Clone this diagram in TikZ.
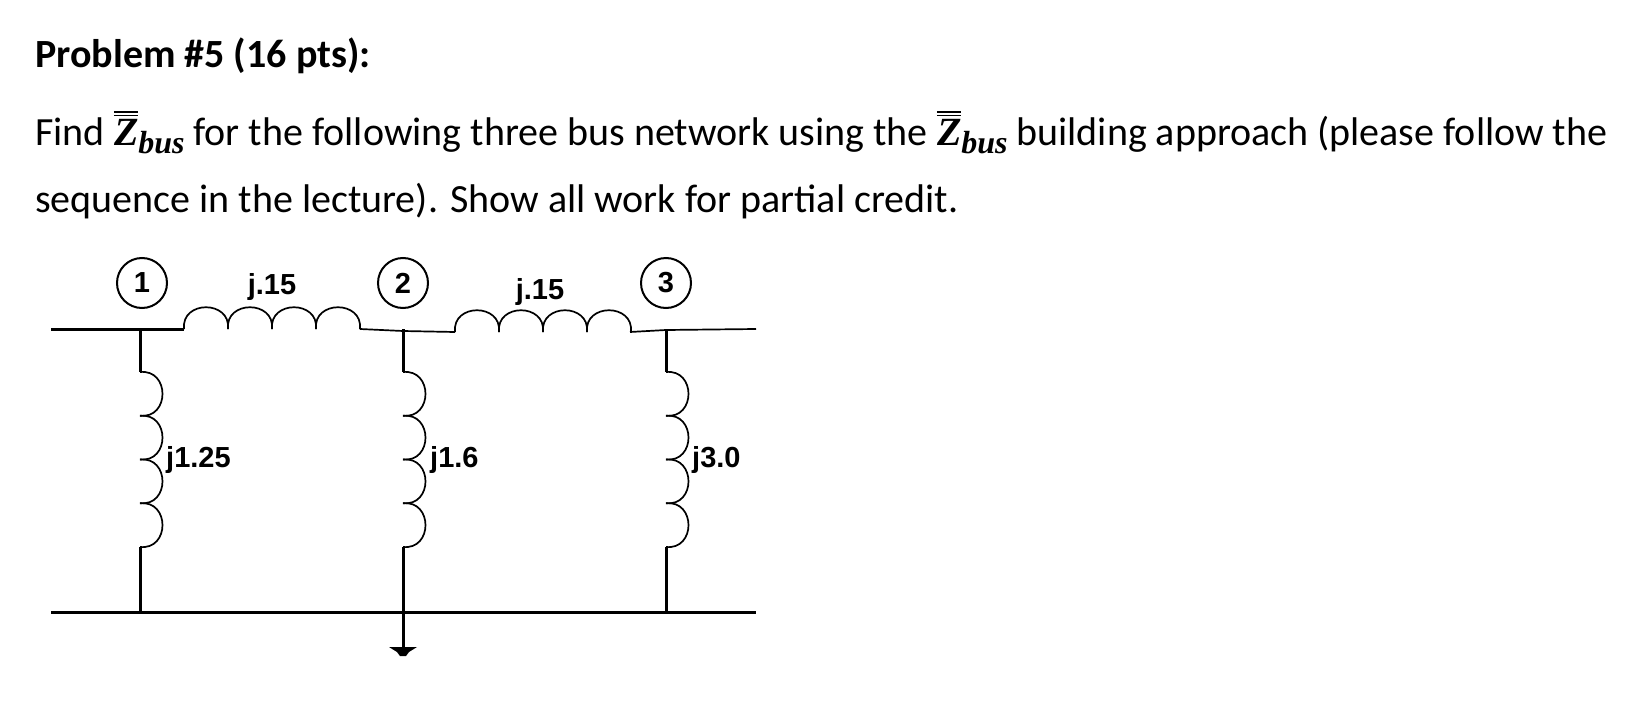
\documentclass[tikz,border=0pt]{standalone}
\usepackage{fontspec}
\setmainfont{Carlito}
\newfontfamily\zfont{Liberation Serif}[BoldItalicFont={* Bold Italic}]
\newfontfamily\lblfont{Liberation Sans}
\newcommand{\Zbus}{{\zfont\bfseries\itshape\vbox{\hrule height 1.8pt\kern2pt\hrule height 1.8pt\kern2.5pt\hbox{\kern1pt Z\kern-1pt}}\raisebox{-0.45ex}{\fontsize{32}{32}\selectfont bus}}}
\begin{document}
\begin{tikzpicture}[x=1pt,y=-1pt,
  bus/.style={line width=3pt},
  wire/.style={line width=1.7pt},
  busnum/.style={circle,draw,line width=2pt,minimum size=50pt,inner sep=0pt,font=\lblfont\bfseries\fontsize{29}{29}\selectfont},
  lbl/.style={font=\lblfont\bfseries\fontsize{29}{29}\selectfont,inner sep=0pt},
  txt/.style={anchor=base west,inner sep=0pt,font=\fontsize{40}{40}\selectfont}]
\useasboundingbox (0,0) rectangle (1650,712);
\node[txt,font=\bfseries\fontsize{40}{40}\selectfont] (title) at (35,67) {Problem \#5 (16 pts):};
\node[txt] (l1) at (35,145) {Find \Zbus\ for the following three bus network using the \Zbus\ building approach (please follow the};
\node[txt] (l2) at (35,212) {sequence in the lecture). Show all work for partial credit.};
% bus numbers
\node[busnum] (n1) at (142,283) {1};
\node[busnum] (n2) at (403,283) {2};
\node[busnum] (n3) at (666,283) {3};
\node[lbl] (z12) at (272,287) {j.15};
\node[lbl] (z23) at (540,292) {j.15};
\node[lbl,anchor=west] (z1) at (166,460) {j1.25};
\node[lbl,anchor=west] (z2) at (430,460) {j1.6};
\node[lbl,anchor=west] (z3) at (692,460) {j3.0};
% coordinates
\coordinate (b1l) at (51,329);
\coordinate (c1a) at (184,329);
\coordinate (c1b) at (360,329);
\coordinate (b2) at (403,331);
\coordinate (c2a) at (455,332);
\coordinate (c2b) at (630,332);
\coordinate (b3) at (666,330);
\coordinate (b3r) at (756,329);
\coordinate (g2) at (403,612);
\coordinate (gl) at (51,612);
\coordinate (gr) at (756,612);
\coordinate (gnd) at (403,648);
% top wires
\draw[bus] (b1l) -- (c1a);
\draw[wire] (c1b) -- (b2) -- (c2a);
\draw[wire] (c2b) -- (b3) -- (b3r);
% horizontal coils
\foreach \s/\yy in {184/329,455/332}{
  \foreach \k in {0,1,2,3}{
    \draw[wire] ({\s+44*\k},\yy) .. controls ({\s+44*\k-3},{\yy-29}) and ({\s+44*\k+47},{\yy-29}) .. ({\s+44*(\k+1)},\yy);
  }
}
% shunt branches
\foreach \x in {140,403,666}{
  \draw[bus] (\x,329) -- (\x,372);
  \draw[bus] (\x,547) -- (\x,612);
  \foreach \k in {0,1,2,3}{
    \draw[wire] (\x,{372+43.75*\k}) .. controls ({\x+30},{372+43.75*\k-3}) and ({\x+30},{372+43.75*(\k+1)+3}) .. (\x,{372+43.75*(\k+1)});
  }
}
% bottom bus
\draw[bus] (gl) -- (gr);
\draw[bus] (g2) -- (gnd);
\fill (389,647) -- (417,647) -- (409,652) -- (406,656) -- (400,656) -- (397,652) -- cycle;
\end{tikzpicture}
\end{document}
